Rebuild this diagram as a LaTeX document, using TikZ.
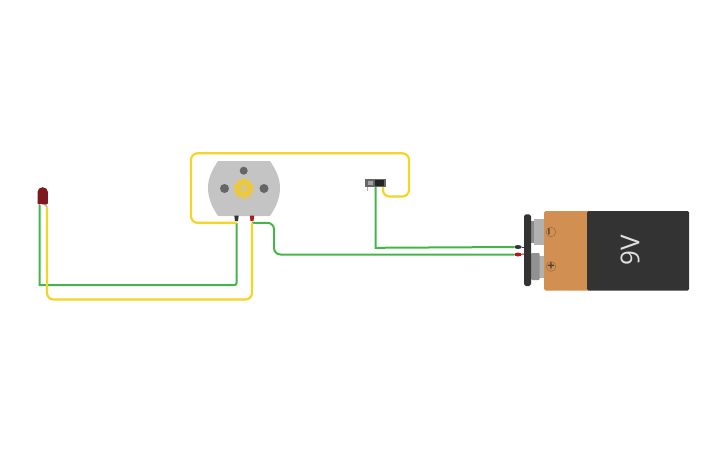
\documentclass[tikz,border=0pt]{standalone}
\usepackage{fontspec}
\setmainfont{Open Sans}
\newlength{\du}
\setlength{\du}{1pt}
\definecolor{wiregreen}{rgb}{0.270000, 0.710000, 0.290000}
\definecolor{wireyellow}{rgb}{0.960000, 0.830000, 0.150000}
\definecolor{motorgrey}{rgb}{0.770000, 0.770000, 0.770000}
\definecolor{holegrey}{rgb}{0.400000, 0.400000, 0.400000}
\definecolor{gearyellow}{rgb}{0.930000, 0.790000, 0.220000}
\definecolor{batorange}{rgb}{0.820000, 0.560000, 0.320000}
\definecolor{batdark}{rgb}{0.200000, 0.200000, 0.200000}
\definecolor{ledred}{rgb}{0.490000, 0.100000, 0.120000}
\definecolor{pinred}{rgb}{0.700000, 0.100000, 0.120000}
\definecolor{legarey}{rgb}{0.680000, 0.680000, 0.680000}
\tikzset{
  wire/.style={line width=2\du, rounded corners=6.5\du},
  greenwire/.style={wire, draw=wiregreen},
  yellowwire/.style={wire, draw=wireyellow, line width=2.2\du},
  leg/.style={draw=legarey, line width=1.4\du},
  hole/.style={circle, fill=holegrey, inner sep=0pt},
  polarity/.style={circle, draw=black!25!batorange, line width=0.5\du, minimum size=9.6\du, inner sep=0pt, text=batdark!85!batorange, font=\bfseries\fontsize{13\du}{13\du}\selectfont},
  clip/.style={ellipse, minimum width=7\du, minimum height=3.6\du, inner sep=0pt},
}
\usetikzlibrary{shapes.geometric}
\begin{document}
\begin{tikzpicture}[x=1\du,y=-1\du]
\useasboundingbox (0,0) rectangle (725,453);
% terminals
\coordinate (motorblack) at (236.5,222.8);
\coordinate (motorred) at (252,222.8);
\coordinate (ledgreen) at (39.7,205);
\coordinate (ledyellow) at (47,207);
\coordinate (swmid) at (375.5,187);
\coordinate (swright) at (383,187);
% led
\draw[leg] (39.7,203)--(ledgreen);
\draw[leg] (44,204)--(47,207);
\fill[ledred] (37.5,204)--(37.5,192) arc (180:360:5.2 and 4.8)--(47.9,201.5)--(48,203)--(46.5,204.5)--cycle;
\node[inner sep=0pt] (led) at (42.7,195.5){};
% motor
\fill[motorgrey] (218,161)--(270,161) .. controls (276,170) and (280,178) .. (280,188) .. controls (280,198) and (276,207) .. (270,216)--(218,216) .. controls (212,207) and (208,198) .. (208,188) .. controls (208,178) and (212,170) .. (218,161)--cycle;
\node[hole, minimum size=9\du] (holeleft) at (224.5,188.5){};
\node[hole, minimum size=9\du] (holeright) at (264,188.5){};
\node[hole, minimum size=8\du] (holetop) at (243.7,170.7){};
\foreach \a in {0,36,...,324}
  \fill[gearyellow, shift={(243.7,188.5)}, rotate=\a] (-2.2,6)--(2.2,6)--(1.4,10.3)--(-1.4,10.3)--cycle;
\node[circle, fill=gearyellow, minimum size=15.5\du, inner sep=0pt] (gear) at (243.7,188.5){};
\node[circle, fill=motorgrey!50!gearyellow, minimum size=8.5\du, inner sep=0pt] (gearhub) at (243.7,188.5){};
\fill[batdark] (234.3,215.5)--(238.7,215.5)--(238,221)--(235,221)--cycle;
\fill[pinred] (249.8,215.5)--(254.2,215.5)--(253.5,221)--(250.5,221)--cycle;
% switch
\draw[leg] (367.5,186)--(367.5,191);
\draw[leg] (383,186)--(383,189);
\fill[holegrey] (364.5,179)rectangle(385.5,187);
\fill[batdark!70!black] (374.5,180)rectangle(384,185.5);
\fill[holegrey!60!white] (368,180.5)rectangle(373,185);
\node[inner sep=0pt] (switch) at (375,183){};
% battery
\fill[batorange, rounded corners=1.5\du] (544,211) rectangle (590,290.5);
\fill[batdark, rounded corners=1.5\du] (587,211) rectangle (689,290.5);
\fill[black!45] (531,221) rectangle (534,243);
\fill[legarey!95!white] (534,219) rectangle (544,245.3);
\fill[legarey!95!white] (539,256) rectangle (544,278);
\fill[black!43, rounded corners=1\du] (531,253) rectangle (539.5,280);
\fill[batdark, rounded corners=1.8\du] (524,214.3) rectangle (531,286);
\node[polarity] (minus) at (551,232){};
\node[polarity] (plus) at (551,266.5){};
\node[text=batdark!85!batorange, rotate=90, font=\bfseries\fontsize{13\du}{13\du}\selectfont] at (minus.center){\textminus};
\node[text=batdark!85!batorange, font=\bfseries\fontsize{13\du}{13\du}\selectfont] at (plus.center){+};
\node[rotate=90, text=white!88!black, font=\fontsize{26\du}{26\du}\selectfont] (volt) at (630,250.5){9V};
% clips
\node[clip, fill=batdark] (clipblack) at (518,247){};
\node[clip, fill=pinred] (clipred) at (518,254.5){};
\draw[batdark, line width=1\du] (clipblack)--(524,247);
\draw[pinred, line width=1\du] (clipred)--(524,254);
\draw[greenwire] (motorred)--(274,222.8)--(274,254.5)--(clipred.west);
\draw[greenwire, rounded corners=0pt] (swmid)--(375.5,247.8)--(clipblack.west);
\draw[greenwire, rounded corners=0pt] (ledgreen)--(39.7,285)[rounded corners=2\du]--(236.5,285)--(motorblack);
\draw[yellowwire] (ledyellow)--(47,299.5)--(252,299.5)--(motorred);
\draw[yellowwire] (motorblack)--(191,222.8)--(191,153.3)--(409,153.3)--(409,196.5)--(383,196.5)--(swright);
\node[clip, fill=batdark] at (518,247){};
\node[clip, fill=pinred] at (518,254.5){};
\end{tikzpicture}
\end{document}
